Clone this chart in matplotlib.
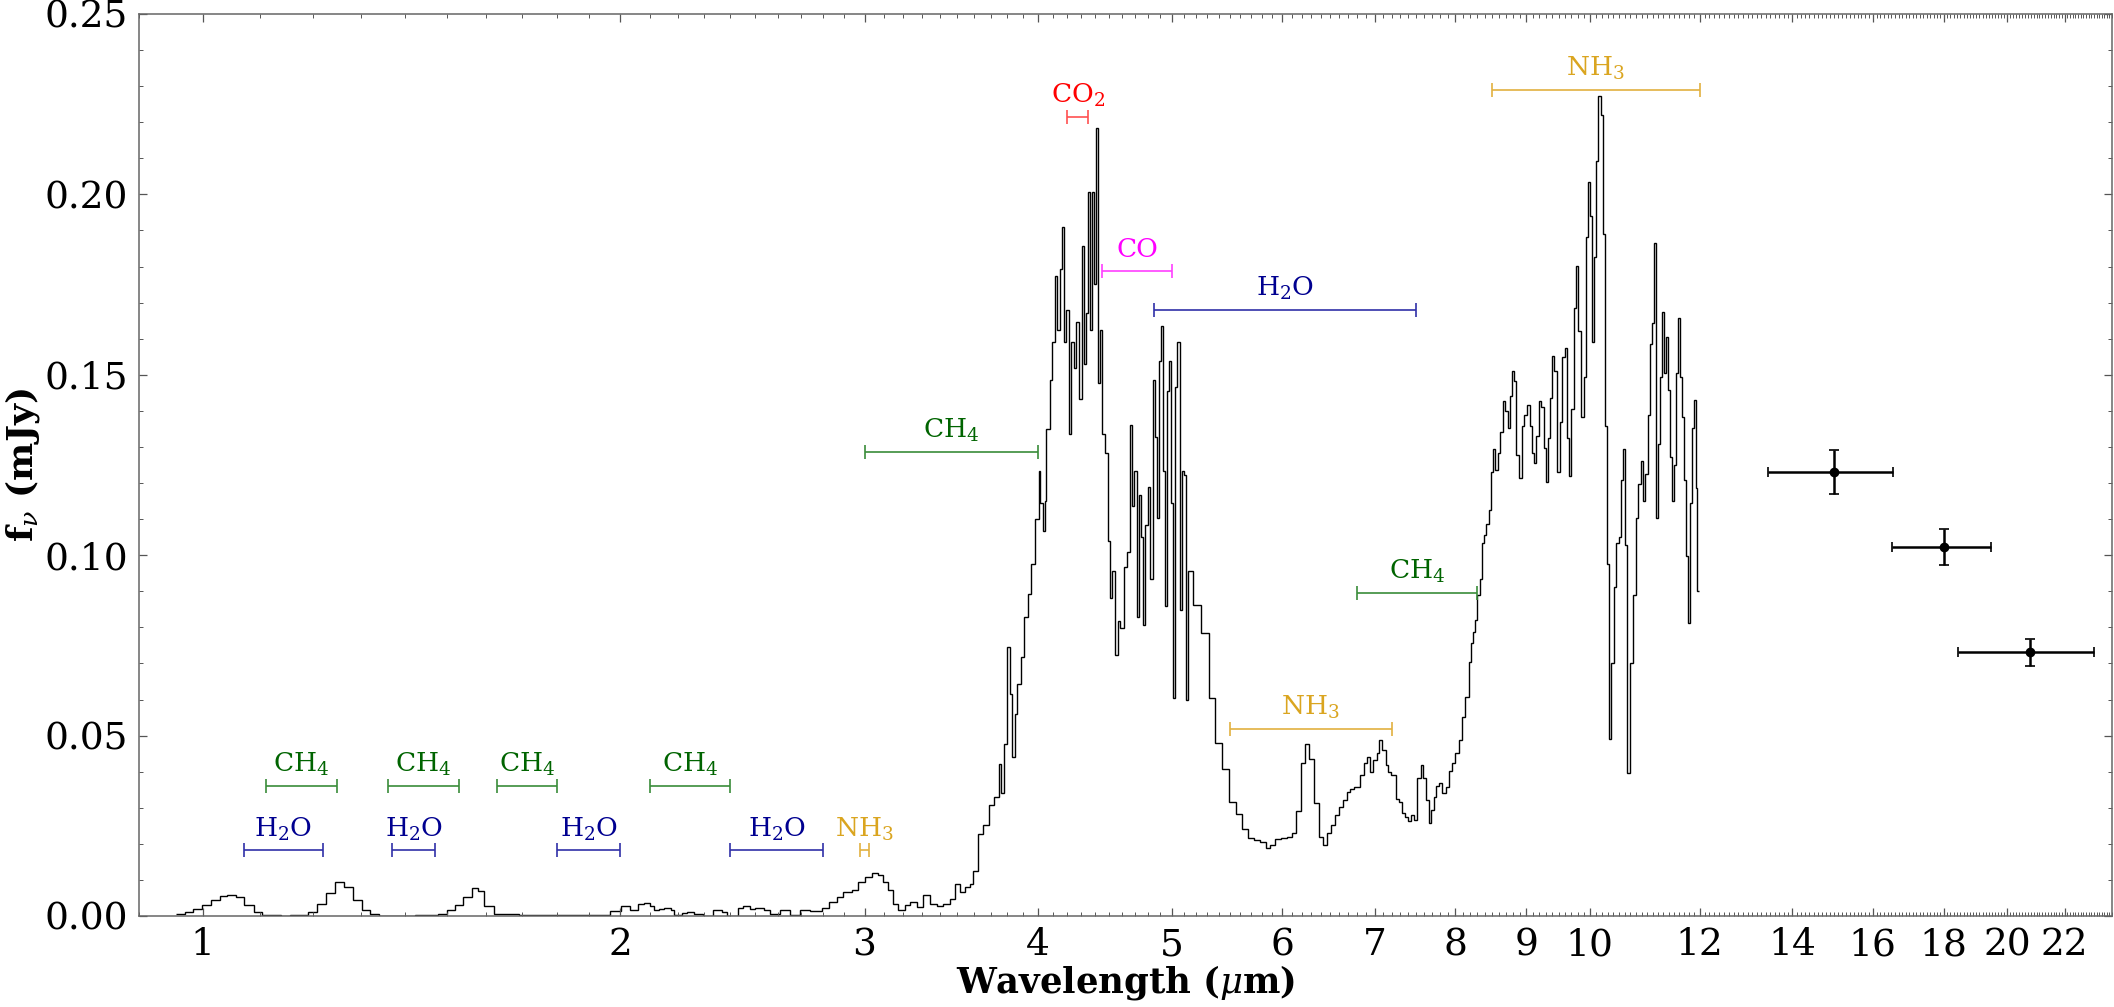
import numpy as np
import matplotlib
matplotlib.use('Agg')
import matplotlib.pyplot as plt
from matplotlib.ticker import FixedLocator, FixedFormatter, MultipleLocator, NullFormatter

# ---------------- data ----------------
# NIRSpec-like part: left bin edges and flux (mJy)
nir_lo = [0.956, 0.971, 0.984, 0.9985, 1.0135, 1.0286, 1.0417, 1.0573, 1.0715, 1.0892,
          1.1037, 1.139, 1.156, 1.190, 1.208, 1.227, 1.245, 1.264, 1.283, 1.302,
          1.321, 1.341, 1.380, 1.423, 1.477, 1.499, 1.521, 1.541, 1.563, 1.579,
          1.596, 1.621, 1.650, 1.690, 1.740, 1.805, 1.870]
nir_fx = [0.0006, 0.0010, 0.0020, 0.0031, 0.0045, 0.0055, 0.0059, 0.0054, 0.0031, 0.0011,
          0.0003, 0.0000, 0.0003, 0.0011, 0.0034, 0.0065, 0.0094, 0.0080, 0.0043, 0.0016,
          0.0005, 0.0001, 0.0000, 0.0004, 0.0006, 0.0016, 0.0031, 0.0053, 0.0078, 0.0069,
          0.0027, 0.0006, 0.0006, 0.0004, 0.0003, 0.0002, 0.0002]

mid_lo = [1.967, 2.003, 2.034, 2.059, 2.080, 2.101, 2.115, 2.133, 2.150, 2.174,
          2.186, 2.216, 2.235, 2.259, 2.296, 2.334, 2.367, 2.387, 2.433, 2.454,
          2.481, 2.502, 2.537, 2.564, 2.608, 2.652, 2.696, 2.741, 2.795, 2.826,
          2.865, 2.897, 2.937, 2.970, 3.003, 3.036, 3.069, 3.095, 3.121, 3.147,
          3.173, 3.209, 3.236, 3.272, 3.308, 3.345, 3.382, 3.420, 3.458, 3.487,
          3.516, 3.545, 3.575, 3.595, 3.625, 3.655, 3.686, 3.718, 3.749, 3.764,
          3.781, 3.802, 3.820, 3.835, 3.850, 3.867, 3.890, 3.912, 3.934, 3.956]
mid_fx = [0.0013, 0.0028, 0.0018, 0.0032, 0.0036, 0.0027, 0.0016, 0.0020, 0.0023, 0.0016,
          0.0002, 0.0008, 0.0011, 0.0005, 0.0000, 0.0016, 0.0011, 0.0000, 0.0023, 0.0027,
          0.0020, 0.0022, 0.0018, 0.0006, 0.0016, 0.0004, 0.0018, 0.0013, 0.0023, 0.0039,
          0.0053, 0.0066, 0.0073, 0.0094, 0.0108, 0.0119, 0.0113, 0.0094, 0.0071, 0.0034,
          0.0016, 0.0030, 0.0039, 0.0025, 0.0057, 0.0034, 0.0027, 0.0034, 0.0048, 0.0090,
          0.0066, 0.0080, 0.0090, 0.0126, 0.0228, 0.0251, 0.0307, 0.0330, 0.0422, 0.0340,
          0.0477, 0.0745, 0.0616, 0.0440, 0.0560, 0.0644, 0.0717, 0.0828, 0.0893, 0.0976]

peak_lo = [3.983, 4.005, 4.016, 4.034, 4.045, 4.056, 4.079, 4.095, 4.117, 4.133,
           4.147, 4.163, 4.175, 4.191, 4.210, 4.228, 4.245, 4.264, 4.283, 4.302,
           4.316, 4.335, 4.350, 4.364, 4.379, 4.393, 4.408, 4.418, 4.432, 4.452,
           4.474, 4.491, 4.506, 4.524, 4.549, 4.566, 4.587, 4.617, 4.638, 4.658,
           4.676, 4.694, 4.715, 4.732, 4.747, 4.763, 4.782, 4.800, 4.822, 4.843,
           4.859, 4.875, 4.892, 4.908, 4.924, 4.941, 4.957, 4.974, 4.990, 5.007,
           5.024, 5.040, 5.063, 5.080, 5.097, 5.114]
peak_fx = [0.1099, 0.1232, 0.1146, 0.1066, 0.1150, 0.1349, 0.1486, 0.1590, 0.1773, 0.1624,
           0.1794, 0.1910, 0.1590, 0.1680, 0.1337, 0.1590, 0.1519, 0.1646, 0.1432, 0.1858,
           0.1530, 0.1670, 0.2007, 0.1624, 0.2007, 0.1752, 0.2184, 0.1476, 0.1624, 0.1337,
           0.1284, 0.1040, 0.0881, 0.0955, 0.0724, 0.0818, 0.0797, 0.0966, 0.1008, 0.1360,
           0.1136, 0.1232, 0.0828, 0.1168, 0.1050, 0.0807, 0.1083, 0.1190, 0.0934, 0.1486,
           0.1327, 0.1104, 0.1539, 0.1635, 0.1232, 0.0860, 0.1454, 0.1539, 0.1146, 0.0604,
           0.1465, 0.1590, 0.0849, 0.1232, 0.1221, 0.0600]

# MIRI-like part
miri_lo = [5.130, 5.176, 5.245, 5.313, 5.372, 5.432, 5.498, 5.563, 5.615, 5.671,
           5.730, 5.788, 5.846, 5.879, 5.934, 5.990, 6.050, 6.100, 6.144, 6.196,
           6.230, 6.279, 6.324, 6.377, 6.423, 6.466, 6.509, 6.556, 6.600, 6.640,
           6.685, 6.722, 6.767, 6.827, 6.872, 6.911, 6.949, 6.980, 7.019, 7.050,
           7.085, 7.125, 7.152, 7.192, 7.244, 7.284, 7.325, 7.365, 7.394, 7.427,
           7.468, 7.509, 7.551, 7.584, 7.618, 7.656, 7.686, 7.720, 7.754, 7.788,
           7.827, 7.871, 7.914, 7.958, 8.002, 8.047, 8.091, 8.136, 8.181, 8.213,
           8.240, 8.272]
miri_fx = [0.0957, 0.0862, 0.0784, 0.0604, 0.0480, 0.0407, 0.0317, 0.0282, 0.0240, 0.0215,
           0.0212, 0.0206, 0.0188, 0.0197, 0.0213, 0.0217, 0.0218, 0.0230, 0.0291, 0.0424,
           0.0476, 0.0434, 0.0312, 0.0220, 0.0197, 0.0229, 0.0252, 0.0280, 0.0303, 0.0322,
           0.0345, 0.0351, 0.0358, 0.0391, 0.0425, 0.0441, 0.0400, 0.0432, 0.0451, 0.0488,
           0.0460, 0.0418, 0.0400, 0.0391, 0.0323, 0.0317, 0.0285, 0.0275, 0.0264, 0.0280,
           0.0266, 0.0382, 0.0418, 0.0382, 0.0322, 0.0259, 0.0294, 0.0331, 0.0360, 0.0368,
           0.0340, 0.0358, 0.0403, 0.0423, 0.0451, 0.0488, 0.0552, 0.0608, 0.0705, 0.0756,
           0.0788, 0.0820]

lrs_lo = [8.293, 8.331, 8.363, 8.396, 8.424, 8.456, 8.489, 8.517, 8.550, 8.584,
          8.622, 8.660, 8.694, 8.728, 8.757, 8.796, 8.825, 8.854, 8.893, 8.933,
          8.973, 9.012, 9.052, 9.082, 9.112, 9.153, 9.193, 9.224, 9.265, 9.306,
          9.337, 9.368, 9.399, 9.430, 9.472, 9.514, 9.556, 9.599, 9.631, 9.663,
          9.695, 9.738, 9.781, 9.814, 9.858, 9.901, 9.945, 9.979, 10.012, 10.045,
          10.079, 10.112, 10.146, 10.191, 10.225, 10.259, 10.293, 10.327, 10.361, 10.407,
          10.447, 10.494, 10.535, 10.570, 10.605, 10.640, 10.687, 10.746, 10.794, 10.842,
          10.890, 10.926, 10.962, 11.011, 11.048, 11.084, 11.121, 11.158, 11.195, 11.232,
          11.270, 11.307, 11.345, 11.382, 11.420, 11.458, 11.496, 11.534, 11.572, 11.611,
          11.650, 11.688, 11.727, 11.766, 11.805, 11.844, 11.883, 11.922, 11.948]
lrs_fx = [0.0891, 0.0933, 0.1034, 0.1055, 0.1087, 0.1124, 0.1230, 0.1293, 0.1235, 0.1283,
          0.1341, 0.1426, 0.1400, 0.1352, 0.1442, 0.1511, 0.1484, 0.1278, 0.1214, 0.1357,
          0.1389, 0.1416, 0.1357, 0.1283, 0.1256, 0.1330, 0.1426, 0.1410, 0.1298, 0.1203,
          0.1325, 0.1436, 0.1553, 0.1511, 0.1230, 0.1368, 0.1548, 0.1574, 0.1325, 0.1220,
          0.1405, 0.1685, 0.1801, 0.1621, 0.1384, 0.1494, 0.1881, 0.2034, 0.1939, 0.1590,
          0.1827, 0.2092, 0.2274, 0.2219, 0.1891, 0.1357, 0.0976, 0.0490, 0.0700, 0.0913,
          0.1034, 0.1050, 0.1208, 0.1293, 0.1029, 0.0396, 0.0700, 0.0891, 0.1103, 0.1198,
          0.1261, 0.1150, 0.1225, 0.1389, 0.1585, 0.1643, 0.1865, 0.1103, 0.1309, 0.1494,
          0.1674, 0.1504, 0.1604, 0.1457, 0.1272, 0.1150, 0.1251, 0.1504, 0.1658, 0.1494,
          0.1384, 0.1208, 0.0997, 0.0813, 0.1145, 0.1352, 0.1431, 0.1187, 0.0902]
lrs_end = 11.981

# photometry
phot_wave = [15.0, 18.0, 20.77]
phot_xerr = [1.55, 1.47, 2.33]
phot_flux = [0.1231, 0.1022, 0.0731]
phot_ferr = [0.0060, 0.0050, 0.0037]

# molecular band annotations
band_labels = ['H$_2$O', 'H$_2$O', 'H$_2$O', 'H$_2$O', 'H$_2$O',
               'CH$_4$', 'CH$_4$', 'CH$_4$', 'CH$_4$', 'CH$_4$', 'CH$_4$',
               'NH$_3$', 'NH$_3$', 'NH$_3$', 'CO$_2$', 'CO']
band_lo = [1.07, 1.37, 1.80, 2.40, 4.85,
           1.11, 1.36, 1.63, 2.10, 3.00, 6.80,
           2.98, 5.50, 8.50, 4.20, 4.45]
band_hi = [1.22, 1.47, 2.00, 2.80, 7.50,
           1.25, 1.53, 1.80, 2.40, 4.00, 8.30,
           3.02, 7.20, 12.0, 4.35, 5.00]
band_y = [0.0182, 0.0182, 0.0182, 0.0182, 0.168,
          0.0361, 0.0361, 0.0361, 0.0361, 0.1287, 0.0895,
          0.0182, 0.0518, 0.2289, 0.2214, 0.1788]
mol_text_color = {'H$_2$O': '#000090', 'CH$_4$': '#006400', 'NH$_3$': '#DAA520',
                  'CO$_2$': '#FF0000', 'CO': '#FF00FF'}
mol_line_color = {'H$_2$O': '#3030A8', 'CH$_4$': '#3A8C3A', 'NH$_3$': '#E2B040',
                  'CO$_2$': '#FF5050', 'CO': '#FF40FF'}

x_major = [1, 2, 3, 4, 5, 6, 7, 8, 9, 10, 12, 14, 16, 18, 20, 22]

# ---------------- plot ----------------
plt.rcParams['font.family'] = ['DejaVu Serif']
plt.rcParams['mathtext.fontset'] = 'dejavuserif'

W, H = 2114, 1007
fig = plt.figure(figsize=(W / 100, H / 100), dpi=100)
ax = fig.add_axes([139.3 / W, 1 - 916 / H, (2112 - 139.3) / W, (916 - 14) / H])
ax.set_xscale('log')

edges = np.array(nir_lo + mid_lo + peak_lo + miri_lo + lrs_lo + [lrs_end])
flux = np.array(nir_fx + mid_fx + peak_fx + miri_fx + lrs_fx)
ax.stairs(flux, edges, baseline=None, color='black', lw=1.0)

ax.errorbar(phot_wave, phot_flux, xerr=phot_xerr, yerr=phot_ferr, fmt='o',
            color='black', ms=6, elinewidth=1.8, capsize=3.5, capthick=1.2)

for lab, lo, hi, y in zip(band_labels, band_lo, band_hi, band_y):
    xc = np.sqrt(lo * hi)
    ax.errorbar([xc], [y], xerr=[[xc - lo], [hi - xc]], fmt='none',
                ecolor=mol_line_color[lab], elinewidth=1.2, capsize=5, capthick=1.2)
    ax.annotate(lab, (xc, y), xytext=(0, 10), textcoords='offset points',
                ha='center', va='baseline', color=mol_text_color[lab], fontsize=19)

ax.set_xlim(0.9, 23.8)
ax.set_ylim(0, 0.25)

ax.xaxis.set_major_locator(FixedLocator(x_major))
ax.xaxis.set_major_formatter(FixedFormatter([str(t) for t in x_major]))
ax.xaxis.set_minor_locator(FixedLocator(np.round(np.arange(0.9, 23.85, 0.1), 2)))
ax.xaxis.set_minor_formatter(NullFormatter())
ax.yaxis.set_major_locator(MultipleLocator(0.05))
ax.yaxis.set_minor_locator(MultipleLocator(0.01))
ax.yaxis.set_major_formatter(matplotlib.ticker.FormatStrFormatter('%.2f'))

ax.tick_params(which='both', direction='in', top=True, right=True, color='#555555',
               labelsize=27, pad=8)
ax.tick_params(which='major', length=6, width=0.9)
ax.tick_params(which='minor', length=3, width=0.7)
for sp in ax.spines.values():
    sp.set_color('#666666')
    sp.set_linewidth(1.1)

ax.set_xlabel('Wavelength ($\\mu$m)', fontsize=25.5, fontweight='bold')
ax.set_ylabel('f$_\\nu$ (mJy)', fontsize=26, fontweight='bold')
ax.xaxis.set_label_coords(0.5, -0.052)
ax.yaxis.set_label_coords(-0.0493, 0.5)

fig.savefig('out.png', dpi=100)
